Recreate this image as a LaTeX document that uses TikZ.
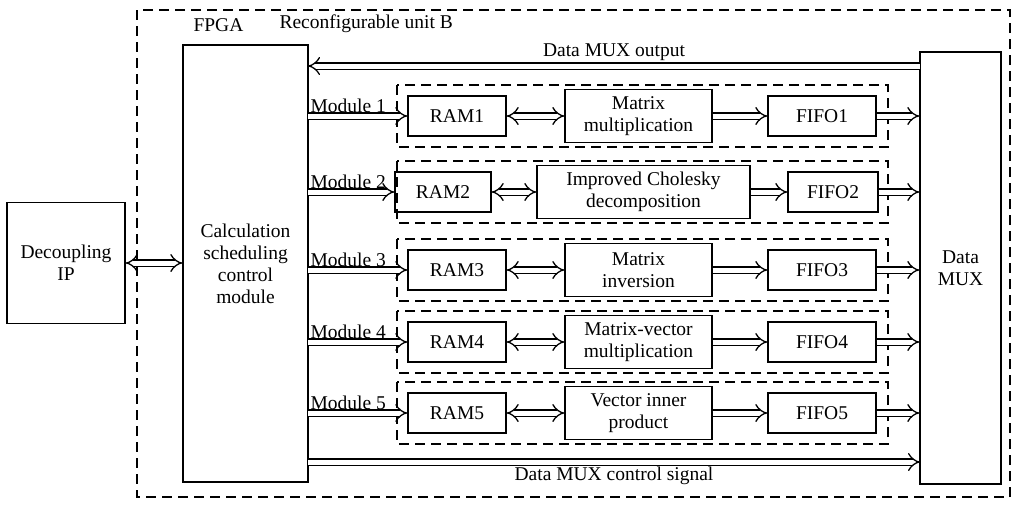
\documentclass[tikz,border=0pt]{standalone}
\usepackage{fontspec}
\setmainfont{Liberation Serif}
\usetikzlibrary{arrows.meta}
\begin{document}
\begin{tikzpicture}[x=1pt,y=-1pt,
  every node/.style={font=\fontsize{19.5}{22}\selectfont},
  box/.style={draw,line width=1.4pt,inner sep=0pt,align=center},
  dbl/.style={double,double distance=5pt,line width=1.3pt,-{Implies[scale=1.5]}},
  dbl2/.style={double,double distance=5pt,line width=1.3pt,{Implies[scale=1.5]}-{Implies[scale=1.5]}},
  dsh/.style={draw,dash pattern=on 10pt off 6pt,line width=1.4pt}]
\useasboundingbox (0,0) rectangle (1024,509);
\draw[dsh] (137,10) rectangle (1010,497);
\node[anchor=west] (fpga) at (190,25) {FPGA};
\node[anchor=west] (ru) at (276,24) {Reconfigurable unit B};
\node[box,minimum width=118pt,minimum height=121pt] (dip) at (66,263) {Decoupling\\IP};
\node[box,minimum width=125pt,minimum height=437pt] (calc) at (245.5,263.5) {Calculation\\scheduling\\control\\module};
\node[box,minimum width=81pt,minimum height=432pt] (mux) at (960.5,268) {Data\\MUX};
\draw[dbl2] (dip.east |- 0,263) -- (calc.west |- 0,263);
\coordinate (mo1) at (920,66);
\coordinate (mo2) at (308,66);
\draw[dbl] (mo1) -- (mo2) node[midway,above=1pt] {Data MUX output};
\coordinate (mc1) at (308,462);
\coordinate (mc2) at (920,462);
\draw[dbl] (mc1) -- (mc2) node[midway,below=1pt] {Data MUX control signal};
% rows: index / y / ram x / ram w / mid x / mid w / fifo x / fifo w / text
\foreach \i/\y/\rx/\rw/\mx/\mw/\fx/\fw/\t in {
  1/116/457/98/638.5/147/822/108/{Matrix\\multiplication},
  2/192/443/96/643.5/213/833/90/{Improved Cholesky\\decomposition},
  3/270/457/98/638.5/147/822/108/{Matrix\\inversion},
  4/342/457/98/638.5/147/822/108/{Matrix-vector\\multiplication},
  5/413/457/98/638.5/147/822/108/{Vector inner\\product}}{
  \draw[dsh] (397,\y-31) rectangle (888,\y+31);
  \node[box,minimum width=\rw pt,minimum height=40pt] (ram\i) at (\rx,\y) {RAM\i};
  \node[box,minimum width=\mw pt,minimum height=53pt] (mid\i) at (\mx,\y) {\t};
  \node[box,minimum width=\fw pt,minimum height=40pt] (fifo\i) at (\fx,\y) {FIFO\i};
  \coordinate (in\i) at (308,\y);
  \draw[dbl] (in\i) -- (ram\i.west) node[pos=0,anchor=south west,xshift=1pt,yshift=2pt,inner sep=1pt] {Module \i};
  \draw[dbl2] (ram\i) -- (mid\i);
  \draw[dbl] (mid\i) -- (fifo\i);
  \draw[dbl] (fifo\i.east) -- (fifo\i.east -| mux.west);
}
\end{tikzpicture}
\end{document}
